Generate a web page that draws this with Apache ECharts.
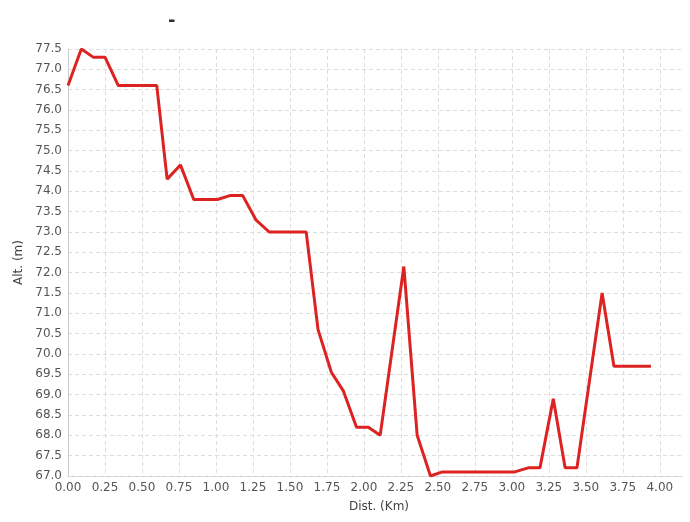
<!DOCTYPE html>
<html>
<head>
<meta charset="utf-8">
<script src="https://cdn.jsdelivr.net/npm/echarts@6/dist/echarts.min.js"></script>
<style>html,body{margin:0;padding:0;background:#fff}#c{width:690px;height:522px}</style>
</head>
<body>
<div id="c"></div>
<script>
var dist = [0.00, 0.09, 0.17, 0.25, 0.34, 0.42, 0.50, 0.60, 0.67, 0.76, 0.85, 0.93, 1.01, 1.10, 1.18, 1.27, 1.36, 1.44, 1.52, 1.61, 1.69, 1.78, 1.86, 1.95, 2.03, 2.11, 2.27, 2.36, 2.45, 2.53, 2.61, 2.70, 2.78, 2.86, 2.94, 3.02, 3.11, 3.19, 3.28, 3.36, 3.44, 3.61, 3.69, 3.77, 3.86, 3.94];
var alt  = [76.6, 77.5, 77.3, 77.3, 76.6, 76.6, 76.6, 76.6, 74.3, 74.65, 73.8, 73.8, 73.8, 73.9, 73.9, 73.3, 73.0, 73.0, 73.0, 73.0, 70.6, 69.55, 69.1, 68.2, 68.2, 68.0, 72.15, 68.0, 67.0, 67.1, 67.1, 67.1, 67.1, 67.1, 67.1, 67.1, 67.2, 67.2, 68.9, 67.2, 67.2, 71.5, 69.7, 69.7, 69.7, 69.7];
var titleText = '-';
var xName = 'Dist. (Km)';
var yName = 'Alt. (m)';

var pts = dist.map(function (d, i) { return [d, alt[i]]; });
var chart = echarts.init(document.getElementById('c'));
var font = 'DejaVu Sans';
var grid = { color: '#ddd', type: [4, 3] };
chart.setOption({
  animation: false,
  title: { text: titleText, left: 163, top: 7, textStyle: { fontFamily: font, fontSize: 18, fontWeight: 'bold', color: '#333' } },
  grid: [
    { left: 68, top: 49, right: 8, bottom: 46, containLabel: false },
    { left: 68, top: 49, right: 30, bottom: 46, containLabel: false }
  ],
  xAxis: [{
    gridIndex: 0, type: 'value', min: 0, max: 4.15, interval: 0.25,
    name: xName, nameLocation: 'middle', nameGap: 25,
    nameTextStyle: { fontFamily: font, fontSize: 12, color: '#444', padding: [0, 0, 0, 8] },
    axisLine: { show: true, lineStyle: { color: '#ccc' } },
    axisTick: { show: false },
    axisLabel: { fontFamily: font, fontSize: 12, color: '#555', margin: 6, showMaxLabel: false,
      formatter: function (v) { return Math.abs(v / 0.25 - Math.round(v / 0.25)) < 1e-6 ? v.toFixed(2) : ''; } },
    splitLine: { show: false }
  }, {
    gridIndex: 1, type: 'value', min: 0, max: 4, interval: 0.25,
    axisLine: { show: false }, axisTick: { show: false }, axisLabel: { show: false },
    splitLine: { show: true, lineStyle: grid }
  }],
  yAxis: [{
    gridIndex: 0, type: 'value', min: 67, max: 77.5, interval: 0.5,
    name: yName, nameLocation: 'middle', nameGap: 38, nameRotate: 90,
    nameTextStyle: { fontFamily: font, fontSize: 12, color: '#444' },
    axisLine: { show: true, lineStyle: { color: '#ccc' } },
    axisTick: { show: false },
    axisLabel: { fontFamily: font, fontSize: 12, color: '#555', margin: 6, formatter: function (v) { return v.toFixed(1); } },
    splitLine: { show: true, lineStyle: grid },
    z: 1
  }, {
    gridIndex: 1, type: 'value', min: 67, max: 77.5, interval: 0.5,
    axisLine: { show: false }, axisTick: { show: false }, axisLabel: { show: false }, splitLine: { show: false }
  }],
  series: [{
    type: 'line', xAxisIndex: 0, yAxisIndex: 0, data: pts, showSymbol: false, symbol: 'none', z: 5,
    lineStyle: { color: '#dd2222', width: 3 }, itemStyle: { color: '#dd2222' }
  }]
});
</script>
</body>
</html>
